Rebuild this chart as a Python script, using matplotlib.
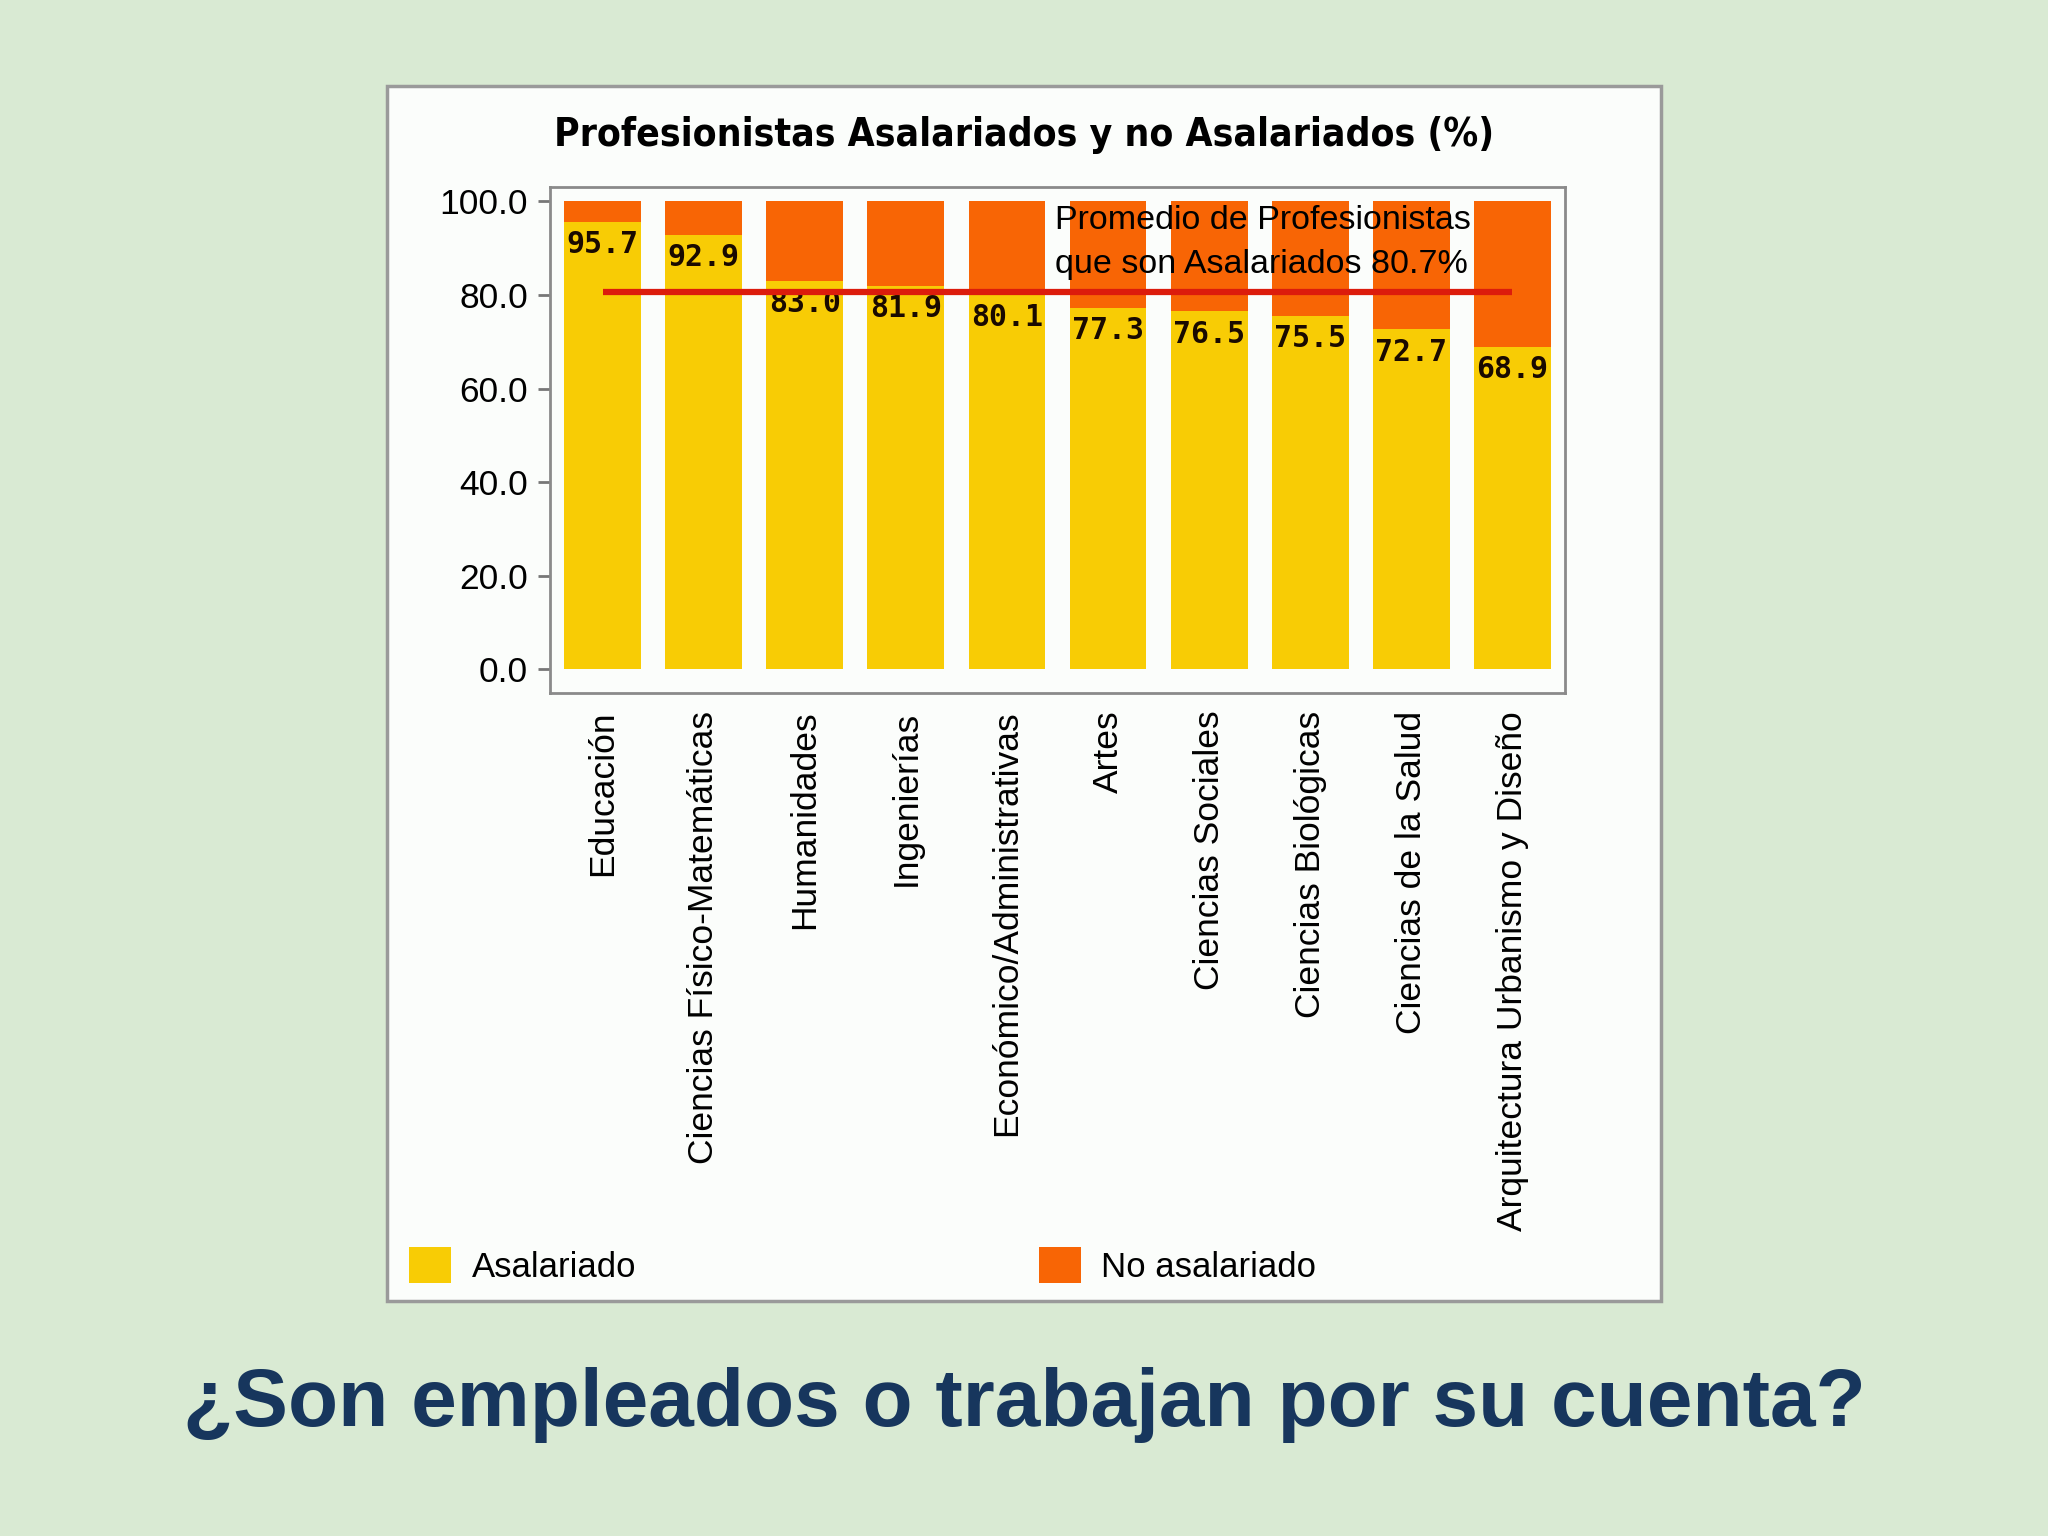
import matplotlib
matplotlib.use("Agg")
import matplotlib.pyplot as plt
from matplotlib.patches import Rectangle, Patch
import numpy as np

# chart data
categories = [
    "Educación",
    "Ciencias Físico-Matemáticas",
    "Humanidades",
    "Ingenierías",
    "Económico/Administrativas",
    "Artes",
    "Ciencias Sociales",
    "Ciencias Biológicas",
    "Ciencias de la Salud",
    "Arquitectura Urbanismo y Diseño",
]
asalariado = [95.7, 92.9, 83.0, 81.9, 80.1, 77.3, 76.5, 75.5, 72.7, 68.9]
no_asalariado = [4.3, 7.1, 17.0, 18.1, 19.9, 22.7, 23.5, 24.5, 27.3, 31.1]
promedio = 80.7
yticks = [0, 20, 40, 60, 80, 100]

BG = "#d9ead3"
YELLOW = "#f8cc05"
ORANGE = "#f86505"
RED = "#dc1c0c"
NAVY = "#17365d"

plt.rcParams["font.family"] = ["Liberation Sans", "DejaVu Sans"]

fig = plt.figure(figsize=(20.48, 15.36), dpi=100)
fig.patch.set_facecolor(BG)

# white chart panel (behind the axes)
panel = Rectangle((0.189, 0.153), 0.622, 0.791, transform=fig.transFigure,
                  facecolor="#fbfdfb", edgecolor="#9a9a9a", linewidth=2.5, zorder=-5)
fig.patches.append(panel)

ax = fig.add_axes([0.2686, 0.549, 0.4955, 0.329])
ax.set_zorder(1)
ax.set_facecolor("#fbfdfb")
x = np.arange(len(categories))
ax.bar(x, asalariado, width=0.76, color=YELLOW, zorder=2)
ax.bar(x, no_asalariado, width=0.76, bottom=asalariado, color=ORANGE, zorder=2)

for xi, v in zip(x, asalariado):
    ax.annotate(f"{v:.1f}", (xi, v), xytext=(0, -6), textcoords="offset points",
                ha="center", va="top", fontsize=21.5, fontweight="bold",
                family="DejaVu Sans Mono", color="#1a0a00", zorder=3)

ax.hlines(promedio, x[0], x[-1], color=RED, linewidth=4.5, zorder=4)
ax.text(0.498, 0.965, f"Promedio de Profesionistas\nque son Asalariados {promedio}%",
        transform=ax.transAxes, ha="left", va="top", fontsize=24.5,
        linespacing=1.55, zorder=5)

ax.set_xlim(-0.52, len(categories) - 0.48)
ax.set_ylim(-5, 103)
ax.set_yticks(yticks)
ax.set_yticklabels([f"{t:.1f}" for t in yticks], fontsize=25.5)
ax.set_xticks(x)
ax.set_xticklabels(categories, rotation=90, fontsize=25.5, va="top")
ax.tick_params(axis="x", length=0, pad=13)
ax.tick_params(axis="y", length=9, width=2, color="#777777", pad=7)
for s in ax.spines.values():
    s.set_color("#8a8a8a")
    s.set_linewidth(2)

fig.text(0.5, 0.912, "Profesionistas Asalariados y no Asalariados (%)",
         ha="center", va="center", fontsize=28, fontweight="bold",
         family="DejaVu Sans", fontstretch="condensed")

handles = [Patch(facecolor=YELLOW, label="Asalariado"),
           Patch(facecolor=ORANGE, label="No asalariado")]
fig.legend(handles=handles, loc="center left", bbox_to_anchor=(0.193, 0.176),
           ncol=2, frameon=False, fontsize=25, handlelength=1.2, handleheight=1.2,
           handletextpad=0.6, columnspacing=11.6, borderaxespad=0)

fig.text(0.5, 0.085, "¿Son empleados o trabajan por su cuenta?", ha="center",
         va="center", fontsize=59, fontweight="bold", color=NAVY)

fig.savefig("out.png", dpi=100, facecolor=BG)
